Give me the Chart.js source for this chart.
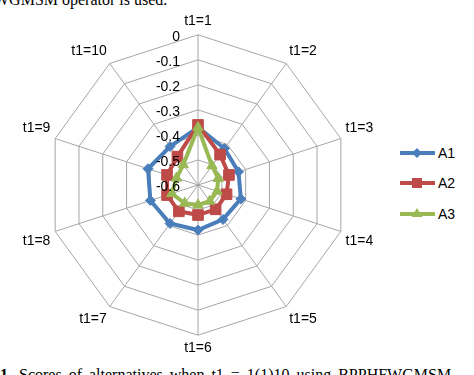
<!DOCTYPE html>
<html>
<head>
<meta charset="utf-8">
<script src="https://cdn.jsdelivr.net/npm/chart.js@4.4.0/dist/chart.umd.min.js"></script>
<style>
html,body{margin:0;padding:0;background:#fff;}
body{width:474px;height:375px;position:relative;overflow:hidden;font-family:'Liberation Sans',Arial,sans-serif;}
#wrap{position:absolute;left:0;top:14px;width:396px;height:344px;}
.cap{position:absolute;font-family:'Liberation Serif','DejaVu Serif',serif;font-size:16px;white-space:nowrap;color:#000;}
#legend{position:absolute;left:400px;top:0;width:74px;height:375px;}
.item{position:absolute;left:0;height:20px;display:flex;align-items:center;font-size:14px;color:#000;}
.item svg{margin-right:3px;}
</style>
</head>
<body>
<div class="cap" style="left:-6px;top:-9px">WGMSM operator is used.</div>
<div id="wrap"><canvas id="radar" width="396" height="344"></canvas></div>
<div id="legend"></div>
<div class="cap" style="left:0;top:366px;word-spacing:3px"><b>1.</b> Scores of alternatives when t1 = 1(1)10 using BPPHFWGMSM</div>
<script>
var labels = ['t1=1','t1=2','t1=3','t1=4','t1=5','t1=6','t1=7','t1=8','t1=9','t1=10'];
var seriesNames = ['A1','A2','A3'];
var a1 = [-0.37,-0.42,-0.43,-0.42,-0.43,-0.42,-0.41,-0.40,-0.39,-0.41];
var a2 = [-0.36,-0.45,-0.47,-0.48,-0.48,-0.48,-0.47,-0.47,-0.47,-0.46];
var a3 = [-0.37,-0.505,-0.515,-0.52,-0.52,-0.52,-0.51,-0.49,-0.51,-0.50];
var tickValues = [0,-0.1,-0.2,-0.3,-0.4,-0.5,-0.6];
var tickLabels = ['0','-0.1','-0.2','-0.3','-0.4','-0.5','-0.6'];

var colors = ['#4A7EBB','#BE4B48','#98B954'];
var markers = ['rectRot','rect','triangle'];
var markerSizes = [5,7.5,6];
var seriesData = [a1,a2,a3];

var datasets = seriesNames.map(function(name, i){
    return {
        label: name,
        data: seriesData[i],
        borderColor: colors[i],
        backgroundColor: colors[i],
        pointBackgroundColor: colors[i],
        pointBorderColor: colors[i],
        borderWidth: 4,
        pointStyle: markers[i],
        pointRadius: markerSizes[i],
        pointBorderWidth: 1,
        fill: false,
        order: 2 - i
    };
});

// tick labels sit left of the vertical axis, like the original
var tickLabelPlugin = {
    id: 'tickLabels',
    afterDatasetsDraw: function(chart){
        var s = chart.scales.r, ctx = chart.ctx;
        ctx.save();
        ctx.font = '14px "Liberation Sans"';
        ctx.fillStyle = '#000';
        ctx.textAlign = 'right';
        ctx.textBaseline = 'middle';
        tickValues.forEach(function(v, i){
            var d = s.getDistanceFromCenterForValue(v);
            ctx.fillText(tickLabels[i], s.xCenter - 18, s.yCenter - d + 2);
        });
        ctx.restore();
    }
};

new Chart(document.getElementById('radar'), {
    type: 'radar',
    data: { labels: labels, datasets: datasets },
    options: {
        responsive: false,
        animation: false,
        elements: { line: { tension: 0 } },
        plugins: { legend: { display: false }, tooltip: { enabled: false } },
        scales: {
            r: {
                min: -0.6,
                max: 0,
                ticks: { stepSize: 0.1, display: false },
                grid: { color: '#a6a6a6', lineWidth: 1 },
                angleLines: { color: '#a6a6a6', lineWidth: 1 },
                pointLabels: {
                    color: '#000',
                    padding: 5,
                    font: { family: 'Liberation Sans', size: 14 }
                }
            }
        }
    },
    plugins: [tickLabelPlugin]
});

// legend: line with the series marker, then the name
var legendTops = [143, 173, 204];
var legend = document.getElementById('legend');
seriesNames.forEach(function(name, i){
    var c = colors[i], shape;
    if(markers[i] === 'rectRot') shape = '<polygon points="17,5 22,10 17,15 12,10" fill="'+c+'"/>';
    else if(markers[i] === 'rect') shape = '<rect x="12" y="5" width="10" height="10" fill="'+c+'"/>';
    else shape = '<polygon points="17,4 22.5,13 11.5,13" fill="'+c+'"/>';
    var div = document.createElement('div');
    div.className = 'item';
    div.style.top = legendTops[i] + 'px';
    div.innerHTML = '<svg width="35" height="20"><line x1="1" y1="10" x2="34" y2="10" stroke="'+c+'" stroke-width="4" stroke-linecap="round"/>' + shape + '</svg>' + name;
    legend.appendChild(div);
});
</script>
</body>
</html>
